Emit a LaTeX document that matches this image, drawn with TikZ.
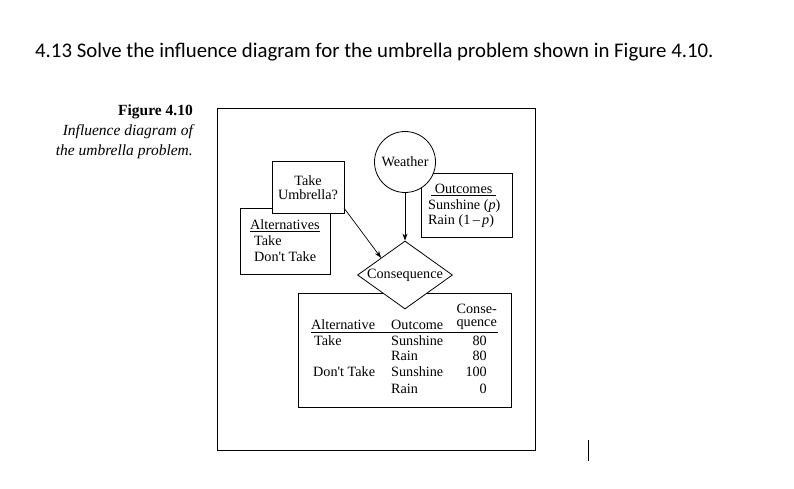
\documentclass[tikz,border=0pt]{standalone}
\usepackage{fontspec}
\setmainfont{Liberation Serif}
\newfontfamily\calib{Carlito}
\usetikzlibrary{shapes.geometric,arrows.meta}
\begin{document}
\begin{tikzpicture}[x=1pt,y=-1pt,
  txt/.style={inner sep=0pt,font=\fontsize{14.2}{15}\selectfont},
  bx/.style={draw,line width=0.8pt,fill=white},
  arr/.style={-{Stealth[length=7pt,width=5pt]},line width=0.7pt}]
\useasboundingbox (0,0) rectangle (794,489);
\node[inner sep=0pt,anchor=west,font=\calib\fontsize{20.8}{24}\selectfont] (title) at (35,52) {4.13 Solve the influence diagram for the umbrella problem shown in Figure 4.10.};
\node[inner sep=0pt,anchor=east,font=\bfseries\fontsize{15.5}{17}\selectfont] (fig) at (193,112) {Figure 4.10};
\node[inner sep=0pt,anchor=east,font=\itshape\fontsize{15.5}{17}\selectfont] (cap1) at (193,132) {Influence diagram of};
\node[inner sep=0pt,anchor=east,font=\itshape\fontsize{15.5}{17}\selectfont] (cap2) at (193,152) {the umbrella problem.};
\draw[line width=0.9pt] (217,108) rectangle (535,450);
% alternatives
\draw[bx] (240,208) rectangle (330,274);
\node[txt,anchor=west] (alt) at (250,226) {\underline{Alternatives}};
\node[txt,anchor=west] (a1) at (254,241) {Take};
\node[txt,anchor=west] (a2) at (254,257) {Don\textquotesingle t Take};
\draw[bx] (272,161) rectangle (344,213);
\node[txt,align=center] (tu) at (308,188) {Take\\[-1pt]Umbrella?};
\coordinate (tuc) at (344,208);
% outcomes
\draw[bx] (421,173) rectangle (512,237);
\node[txt,anchor=west] (oh) at (431,190) {\underline{\ Outcomes\ }};
\node[txt,anchor=west] (o1) at (428,206) {Sunshine (\textit{p})};
\node[txt,anchor=west] (o2) at (428,221) {Rain (1\,–\,\textit{p})};
\node[draw,circle,line width=0.8pt,fill=white,minimum size=61pt,inner sep=0pt,txt] (w) at (405,162) {Weather};
% table
\draw[bx] (298,293) rectangle (511,407);
\node[txt,anchor=east] at (497,309) {Conse-};
\node[txt,anchor=west] at (311,325) {Alternative};
\node[txt,anchor=west] at (391,325) {Outcome};
\node[txt,anchor=east] at (497,325) {quence};
\draw[line width=0.6pt] (311,332) -- (498,332);
\node[txt,anchor=west] at (314,341) {Take};
\node[txt,anchor=west] at (391,341) {Sunshine};
\node[txt,anchor=east] at (487,341) {80};
\node[txt,anchor=west] at (391,356) {Rain};
\node[txt,anchor=east] at (487,356) {80};
\node[txt,anchor=west] at (313,372) {Don\textquotesingle t Take};
\node[txt,anchor=west] at (391,372) {Sunshine};
\node[txt,anchor=east] at (487,372) {100};
\node[txt,anchor=west] at (391,389) {Rain};
\node[txt,anchor=east] at (487,389) {0};
\node[draw,diamond,line width=0.8pt,fill=white,minimum width=95pt,minimum height=68pt,inner sep=0pt,txt,aspect=1.4] (c) at (405,275) {Consequence};
\draw[arr] (tuc) -- (c.north west);
\draw[arr] (w.south) -- (c.north);
\draw[line width=0.8pt] (588,440) -- (588,461);
\end{tikzpicture}
\end{document}
